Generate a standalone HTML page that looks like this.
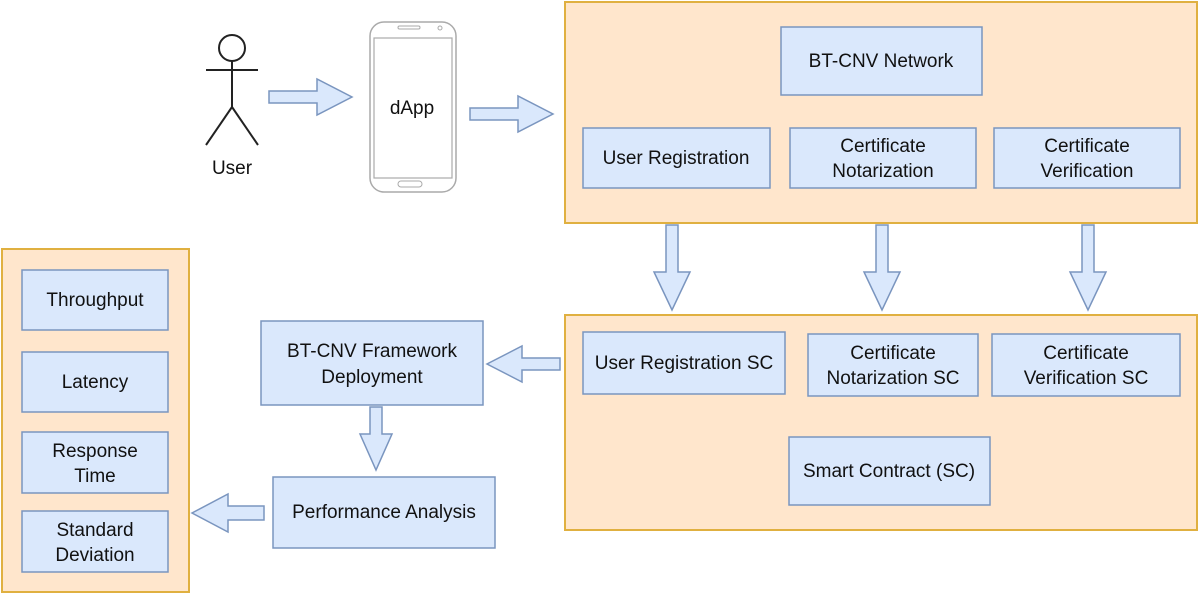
<!DOCTYPE html>
<html><head><meta charset="utf-8"><style>
html,body{margin:0;padding:0;background:#fff}
svg{display:block}
text{font-family:"Liberation Sans",sans-serif;font-size:19px;fill:#111;text-anchor:middle}
.c{fill:#ffe6cc;stroke:#e0b040;stroke-width:2}
.b{fill:#dae8fc;stroke:#7a95bf;stroke-width:1.5}
.a{fill:#dae8fc;stroke:#7a95bf;stroke-width:1.5}
</style></head><body>
<svg width="1200" height="594" viewBox="0 0 1200 594">
<g stroke="#222" stroke-width="2" fill="none">
<circle cx="232" cy="48" r="13"/>
<line x1="232" y1="61" x2="232" y2="107"/>
<line x1="206" y1="70" x2="258" y2="70"/>
<line x1="232" y1="107" x2="206" y2="145"/>
<line x1="232" y1="107" x2="258" y2="145"/>
</g>
<text x="232" y="174">User</text>
<rect x="370" y="22" width="86" height="170" rx="14" fill="#fff" stroke="#aaa" stroke-width="1.5"/>
<rect x="374" y="38" width="78" height="140" fill="#fff" stroke="#aaa" stroke-width="1.2"/>
<rect x="398" y="181" width="24" height="6" rx="3" fill="none" stroke="#aaa"/>
<rect x="398" y="26" width="22" height="3" rx="1.5" fill="none" stroke="#aaa"/>
<circle cx="440" cy="28" r="2" fill="none" stroke="#aaa"/>
<text x="412" y="114">dApp</text>
<polygon class="a" points="269,91 317,91 317,79 352,97 317,115 317,103 269,103"/>
<polygon class="a" points="470,108 518,108 518,96 553,114 518,132 518,120 470,120"/>
<rect class="c" x="565" y="2" width="632" height="221"/>
<rect class="b" x="781" y="27" width="201" height="68"/>
<text x="881" y="67">BT-CNV Network</text>
<rect class="b" x="583" y="128" width="187" height="60"/>
<text x="676" y="164">User Registration</text>
<rect class="b" x="790" y="128" width="186" height="60"/>
<text x="883" y="152">Certificate</text><text x="883" y="177">Notarization</text>
<rect class="b" x="994" y="128" width="186" height="60"/>
<text x="1087" y="152">Certificate</text><text x="1087" y="177">Verification</text>
<polygon class="a" points="666,225 678,225 678,272 690,272 672,310 654,272 666,272"/>
<polygon class="a" points="876,225 888,225 888,272 900,272 882,310 864,272 876,272"/>
<polygon class="a" points="1082,225 1094,225 1094,272 1106,272 1088,310 1070,272 1082,272"/>
<rect class="c" x="565" y="315" width="632" height="215"/>
<rect class="b" x="583" y="332" width="202" height="62"/>
<text x="684" y="369">User Registration SC</text>
<rect class="b" x="808" y="334" width="170" height="62"/>
<text x="893" y="359">Certificate</text><text x="893" y="384">Notarization SC</text>
<rect class="b" x="992" y="334" width="188" height="62"/>
<text x="1086" y="359">Certificate</text><text x="1086" y="384">Verification SC</text>
<rect class="b" x="789" y="437" width="201" height="68"/>
<text x="889" y="477">Smart Contract (SC)</text>
<polygon class="a" points="560,358 522,358 522,346 487,364 522,382 522,370 560,370"/>
<rect class="b" x="261" y="321" width="222" height="84"/>
<text x="372" y="357">BT-CNV Framework</text><text x="372" y="383">Deployment</text>
<polygon class="a" points="370,407 382,407 382,434 392,434 376,470 360,434 370,434"/>
<rect class="b" x="273" y="477" width="222" height="71"/>
<text x="384" y="518">Performance Analysis</text>
<polygon class="a" points="264,506 228,506 228,494 192,513 228,532 228,520 264,520"/>
<rect class="c" x="2" y="249" width="187" height="343"/>
<rect class="b" x="22" y="270" width="146" height="60"/>
<text x="95" y="306">Throughput</text>
<rect class="b" x="22" y="352" width="146" height="60"/>
<text x="95" y="388">Latency</text>
<rect class="b" x="22" y="432" width="146" height="61"/>
<text x="95" y="457">Response</text><text x="95" y="482">Time</text>
<rect class="b" x="22" y="511" width="146" height="61"/>
<text x="95" y="536">Standard</text><text x="95" y="561">Deviation</text>
</svg>
</body></html>
